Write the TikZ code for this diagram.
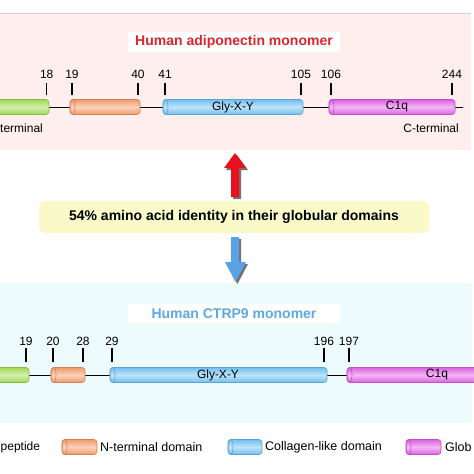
\documentclass[tikz,border=0pt]{standalone}
\usepackage{fontspec}
\setmainfont{Liberation Sans}
\definecolor{pinkbg}{HTML}{FFEEEE}
\definecolor{cyanbg}{HTML}{EEFBFD}
\definecolor{sigcol}{HTML}{A0DA50}
\definecolor{ntcol}{HTML}{F29A68}
\definecolor{colcol}{HTML}{70C0F0}
\definecolor{globcol}{HTML}{E060E4}
\definecolor{titlered}{HTML}{D9262E}
\definecolor{titleblue}{HTML}{5DA9E2}
\definecolor{boxyellow}{HTML}{FAFAC8}
\definecolor{uparrow}{HTML}{E8101A}
\definecolor{downarrow}{HTML}{5AA2E6}
\newcommand\domain[4]{%
  \draw[#4!85!black, line width=0.6pt, rounded corners=3pt, top color=#4, bottom color=#4, middle color=#4!45] (#1,#3-7.5) rectangle (#2,#3+7.5);
  \draw[#4!85!black, line width=0.6pt] (#1+2.5,#3) ellipse (2.5 and 7.5);
}
\begin{document}
\begin{tikzpicture}[x=1pt, y=-1pt, font=\fontsize{12}{14}\selectfont,
    tick/.style={line width=1.1pt},
    title/.style={fill=white, minimum width=212pt, font=\fontsize{14}{16}\selectfont\bfseries},
    legtext/.style={inner sep=0pt}]
  \useasboundingbox (0,0) rectangle (474,474);
  \clip (0,0) rectangle (474,474);
  \fill[pinkbg] (0,13) rectangle (471,150);
  \draw[pinkbg!85!black, line width=0.4pt] (0,13) -- (471,13);
  \fill[cyanbg] (0,283) rectangle (472,423);
  \node[title, text=titlered, minimum height=20pt] (adipo) at (234,42) {Human adiponectin monomer};
  \node[title, text=titleblue, minimum height=19pt] (ctrp) at (234,313.5) {Human CTRP9 monomer};
  % adiponectin
  \draw[line width=0.8pt] (0,107) -- (463,107);
  \domain{-20}{49}{107}{sigcol}
  \domain{70}{140}{107}{ntcol}
  \domain{163}{303}{107}{colcol}
  \domain{329}{455}{107}{globcol}
  \foreach \x/\n in {46.7/18, 72/19, 138/40, 165/41, 301/105, 331/106, 452/244}{
    \draw[tick] (\x,83) -- (\x,95);
    \node (a\n) at (\x,74) {\n};
  }
  \node (glyA) at (233,107) {Gly-X-Y};
  \node (c1qA) at (397,107) {C1q};
  \node[legtext, anchor=west] (ntermA) at (0,128) {terminal};
  \node[legtext, anchor=east] (ctermA) at (459,128) {C-terminal};
  % CTRP9
  \draw[line width=0.8pt] (0,375) -- (474,375);
  \domain{-20}{29}{375}{sigcol}
  \domain{51}{85}{375}{ntcol}
  \domain{110}{327}{375}{colcol}
  \domain{347}{490}{375}{globcol}
  \foreach \x/\n in {26/19, 53/20, 83/28, 112/29, 324/196, 349/197}{
    \draw[tick] (\x,348) -- (\x,362);
    \node (c\n) at (\x,341) {\n};
  }
  \node (glyC) at (218,375) {Gly-X-Y};
  \node (c1qC) at (437,375) {C1q};
  % identity box and arrows
  \node[fill=boxyellow, rounded corners=5pt, minimum width=390pt, minimum height=32pt,
        font=\fontsize{14}{16}\selectfont\bfseries] (ident) at (234,217) {54\% amino acid identity in their globular domains};
  \foreach \d/\c in {2/black!55, 0/uparrow}
    \fill[\c, shift={(\d,\d)}] (231,197) -- (231,168) -- (224,168) -- (235,153) -- (246,168) -- (239,168) -- (239,197) -- cycle;
  \foreach \d/\c in {2/black!55, 0/downarrow}
    \fill[\c, shift={(\d,\d)}] (231,237) -- (231,262) -- (225,262) -- (235.5,282) -- (246,262) -- (239,262) -- (239,237) -- cycle;
  % legend
  \node[legtext, anchor=west] (lsig) at (0.5,447) {peptide};
  \domain{62}{97}{447}{ntcol}
  \node[legtext, anchor=west, font=\fontsize{12.5}{14}\selectfont] (lnt) at (100,447) {N-terminal domain};
  \domain{228}{262}{447}{colcol}
  \node[legtext, anchor=west, font=\fontsize{12.5}{14}\selectfont] (lcol) at (265,447) {Collagen-like domain};
  \domain{406}{441}{447}{globcol}
  \node[legtext, anchor=west, font=\fontsize{12.5}{14}\selectfont] (lglob) at (445,447) {Glob};
\end{tikzpicture}
\end{document}
